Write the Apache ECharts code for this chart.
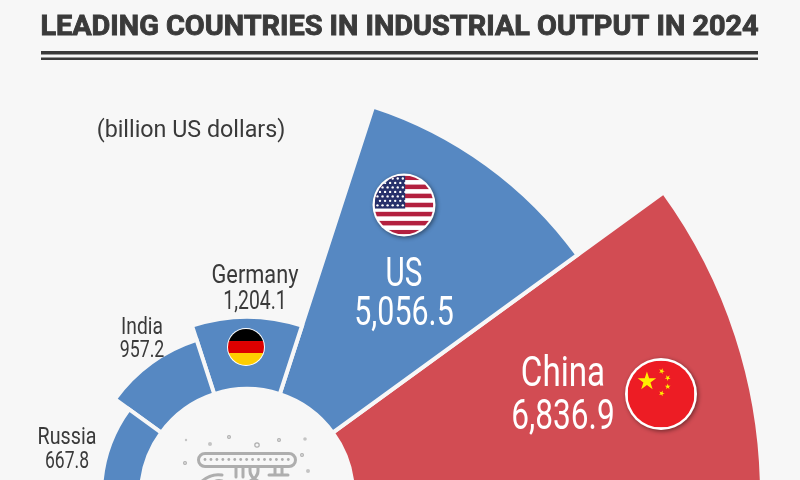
<!DOCTYPE html>
<html>
<head>
<meta charset="utf-8">
<script src="https://cdn.jsdelivr.net/npm/echarts@6/dist/echarts.min.js"></script>
<style>html,body{margin:0;padding:0;background:#f7f7f7}#c{width:800px;height:480px}</style>
</head>
<body>
<div id="c"></div>
<script>
// Industrial output per country, billion US dollars
const categories = ['China', 'US', 'Germany', 'India', 'Russia'];
const outputValues = [6836.9, 5056.5, 1204.1, 957.2, 667.8];
const sliceColors = ['#d24c53', '#5688c2', '#5688c2', '#5688c2', '#5688c2'];
const titleText = 'LEADING COUNTRIES IN INDUSTRIAL OUTPUT IN 2024';
const unitText = '(billion US dollars)';

const BG = '#f7f7f7', INK = '#3a3a3a';
const FONT = 'Roboto, "Noto Sans", sans-serif';
const fmt = v => v.toLocaleString('en-US', { minimumFractionDigits: 1, maximumFractionDigits: 1 });
const svgUri = (size, body) => 'data:image/svg+xml,' + encodeURIComponent(
  `<svg xmlns="http://www.w3.org/2000/svg" width="${size}" height="${size}" viewBox="0 0 100 100"><defs><clipPath id="o"><circle cx="50" cy="50" r="50"/></clipPath></defs><g clip-path="url(#o)">${body}</g></svg>`);

function star(cx, cy, r, rot) {
  let pts = [];
  for (let i = 0; i < 10; i++) {
    const a = (rot - 90 + i * 36) * Math.PI / 180, q = i % 2 ? r * 0.382 : r;
    pts.push((cx + q * Math.cos(a)).toFixed(2) + ',' + (cy + q * Math.sin(a)).toFixed(2));
  }
  return `<polygon points="${pts.join(' ')}"/>`;
}

function usFlag() {
  let s = '<rect width="100" height="100" fill="#fff"/>';
  for (let i = 0; i < 13; i += 2) s += `<rect y="${i * 100 / 13}" width="100" height="${100 / 13}" fill="#b3203f"/>`;
  s += '<rect width="52" height="56" fill="#27306b"/><g fill="#fff">';
  for (let r = 0; r < 7; r++) for (let c = 0; c < 6; c++) {
    s += `<circle cx="${5 + c * 8.6 + (r % 2 ? 4.3 : 0)}" cy="${5 + r * 7.6}" r="2"/>`;
  }
  return s + '</g>';
}
function deFlag() {
  return '<rect width="100" height="34" fill="#000"/><rect y="33.4" width="100" height="34" fill="#dd0000"/><rect y="66.7" width="100" height="34" fill="#ffce00"/>';
}
function cnFlag() {
  return '<rect width="100" height="100" fill="#ed1c24"/><g fill="#ffef00">' +
    star(29, 31, 14.5, 0) + star(51, 16, 4.6, 20) + star(60, 26, 4.6, 40) + star(60, 39, 4.6, 0) + star(51, 49, 4.6, 20) + '</g>';
}

function factoryIcon() {
  const c = '#aeaeae';
  let s = `<g fill="none" stroke="${c}" stroke-width="3" stroke-linecap="round">` +
    '<rect x="28.5" y="28.5" width="97" height="13" rx="6.5"/>' +
    '<path d="M66 42V52M73 42V52M80 42V46Q80 52 88 56M88 42V46Q88 52 80 56M105 42V50M112 42V50M99 50H118"/>' +
    '<path d="M30 58Q40 48 52 50"/><path d="M40 60Q46 54 52 56"/></g>' +
    `<g fill="none" stroke="${c}" stroke-width="1.2"><circle cx="87" cy="20" r="2.2"/><circle cx="59" cy="12" r="1.4"/><circle cx="109" cy="15" r="1.4"/><circle cx="15" cy="38" r="1.4"/><circle cx="132" cy="30" r="1.4"/></g>` +
    `<g fill="#c4c4c4"><circle cx="40" cy="19" r="2"/><circle cx="16" cy="15" r="1.2"/><circle cx="135" cy="14" r="1.8"/><circle cx="138" cy="46" r="2"/></g>`;
  s += `<g fill="${c}">`;
  for (let i = 0; i < 15; i++) s += `<circle cx="${35 + i * 5.95}" cy="34.5" r="1.4"/>`;
  s += '</g>';
  return 'data:image/svg+xml,' + encodeURIComponent(
    `<svg xmlns="http://www.w3.org/2000/svg" width="150" height="60" viewBox="0 0 150 60">${s}</svg>`);
}

const txt = (text, x, y, size, sx, fill, weight, stroke) => ({
  type: 'text', x, y, scaleX: sx, z: 20, silent: true,
  style: Object.assign({ text, fill, font: `${weight || 400} ${size}px ${FONT}`, align: 'center', verticalAlign: 'middle' },
    stroke ? { stroke: fill, lineWidth: stroke } : {})
});
const flag = (uri, cx, cy, r, ring, blur) => ([
  { type: 'circle', z: 15, silent: true, shape: { cx, cy, r: r + ring },
    style: { fill: '#fff', shadowBlur: blur, shadowOffsetX: blur / 3, shadowOffsetY: blur / 3, shadowColor: 'rgba(0,0,0,0.45)' } },
  { type: 'image', z: 16, silent: true, style: { image: uri, x: cx - r, y: cy - r, width: 2 * r, height: 2 * r } }
]);
const rule = (y, h) => ({ type: 'rect', z: 20, silent: true, shape: { x: 41, y, width: 717, height: h }, style: { fill: INK } });

const labelOf = i => [categories[i], fmt(outputValues[i])];
const graphics = [
  txt(titleText, 399.5, 27.5, 28, 1.03, INK, 700, 0.9),
  rule(51, 3.4), rule(57.6, 2.4),
  txt(unitText, 191, 131, 24, 0.97, INK),
  // value captions, one pair per slice
  txt(labelOf(0)[0], 563, 375, 42, 0.79, '#fff'), txt(labelOf(0)[1], 563, 418, 42, 0.753, '#fff'),
  txt(labelOf(1)[0], 404, 275.5, 40, 0.74, '#fff'), txt(labelOf(1)[1], 404, 315, 40, 0.76, '#fff'),
  txt(labelOf(2)[0], 255, 277, 25, 0.87, INK), txt(labelOf(2)[1], 255, 303, 25, 0.775, INK),
  txt(labelOf(3)[0], 142, 328, 24, 0.8, INK), txt(labelOf(3)[1], 142, 351, 24, 0.74, INK),
  txt(labelOf(4)[0], 67, 438, 24, 0.82, INK), txt(labelOf(4)[1], 67, 462, 24, 0.73, INK),
  ...flag(svgUri(60, usFlag()), 404, 205, 29.5, 2, 4),
  ...flag(svgUri(36, deFlag()), 246, 347, 18, 1, 0),
  ...flag(svgUri(66, cnFlag()), 661, 394, 33.5, 2.5, 4),
  { type: 'image', z: 5, silent: true, style: { image: factoryIcon(), x: 170, y: 425, width: 150, height: 60 } }
];

const chart = echarts.init(document.getElementById('c'));
chart.setOption({
  backgroundColor: BG,
  animation: false,
  polar: { center: [247, 495], radius: [106, 515] },
  angleAxis: { type: 'category', data: categories, startAngle: 0, endAngle: 180, clockwise: false, show: false },
  radiusAxis: { type: 'value', min: 0, max: outputValues[0], show: false },
  series: [{
    type: 'bar',
    coordinateSystem: 'polar',
    barCategoryGap: 0,
    barWidth: '100%',
    silent: true,
    itemStyle: { borderColor: BG, borderWidth: 4 },
    data: outputValues.map((value, i) => ({ value, itemStyle: { color: sliceColors[i] } }))
  }],
  graphic: graphics
});
</script>
</body>
</html>
